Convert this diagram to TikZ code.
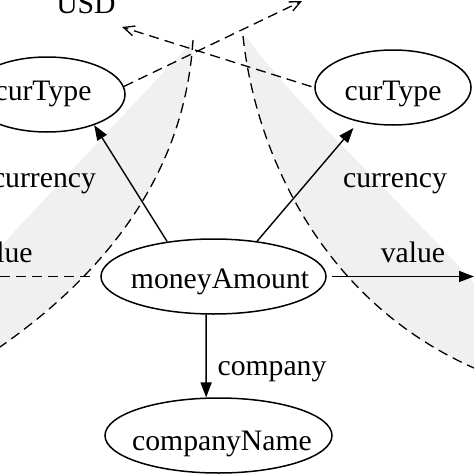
\documentclass[tikz,border=0pt]{standalone}
\usepackage{fontspec}
\setmainfont{Liberation Serif}
\usetikzlibrary{shapes.geometric,arrows.meta}
\definecolor{shadegray}{HTML}{F0F0F0}
\begin{document}
\begin{tikzpicture}[x=1pt,y=-1pt,
  ell/.style={ellipse,draw,line width=1.5pt,inner sep=0pt},
  lbl/.style={anchor=base,inner sep=0pt,font=\fontsize{29.7}{30}\selectfont},
  solidarrow/.style={line width=1.4pt,-{Triangle[length=15pt,width=11pt]}},
  dashline/.style={line width=1.3pt,dash pattern=on 10pt off 6pt},
  openarrow/.style={dashline,-{Straight Barb[length=11pt,width=10pt,line width=1.3pt]}}
]
\useasboundingbox (0,0) rectangle (474,474);
% curve end points
\coordinate (la) at (193,40);
\coordinate (lb) at (0,347);
\coordinate (lg1) at (0,247);
\coordinate (lg2) at (189,45);
\coordinate (ra) at (243,36);
\coordinate (rb) at (474,368);
\coordinate (rg1) at (474,283);
\coordinate (rg2) at (247,38);
% shaded regions
\fill[shadegray] (la) .. controls (185,170) and (110,270) .. (lb) -- (lg1) -- (lg2) -- cycle;
\fill[shadegray] (ra) .. controls (255,150) and (320,300) .. (rb) -- (rg1) .. controls (400,200) and (300,110) .. (rg2) -- cycle;
% ellipses
\node[ell,minimum width=225pt,minimum height=75pt] (m) at (213.5,276.5) {};
\node[ell,minimum width=227pt,minimum height=75pt] (cn) at (218.5,435.5) {};
\node[ell,minimum width=156pt,minimum height=75pt] (lc) at (47,94.5) {};
\node[ell,minimum width=156pt,minimum height=75pt] (rc) at (393,87.5) {};
% texts
\node[lbl] (tm) at (220,288) {moneyAmount};
\node[lbl] (tcn) at (222,450) {companyName};
\node[lbl] (tlc) at (43,100) {curType};
\node[lbl] (trc) at (393,100) {curType};
\node[lbl] (tusd) at (86,13) {USD};
\node[lbl] (tcur1) at (44,187) {currency};
\node[lbl] (tcur2) at (395,187) {currency};
\node[lbl] (tval1) at (0.5,262) {value};
\node[lbl] (tval2) at (413,262) {value};
\node[lbl] (tcomp) at (272,375) {company};
% dashed curves
\draw[dashline] (la) .. controls (185,170) and (110,270) .. (lb);
\draw[dashline] (ra) .. controls (255,150) and (320,300) .. (rb);
% solid arrows
\draw[solidarrow] (m.143) -- (lc.-33);
\draw[solidarrow,shorten >=8pt] (m.39) -- (rc.-135);
\draw[solidarrow] (m.-101) -- (cn.108.5);
\coordinate (vend) at (474,276.5);
\draw[solidarrow,shorten <=5pt] (m.east) -- (vend);
% dashed lines
\coordinate (vstart) at (0,276.5);
\draw[dashline,shorten >=8pt] (vstart) -- (m.west);
\coordinate (aend) at (302,1);
\draw[openarrow] (lc.6) -- (aend);
\coordinate (bend) at (122,27);
\draw[openarrow,shorten <=3pt] (rc.west) -- (bend);
\end{tikzpicture}
\end{document}
